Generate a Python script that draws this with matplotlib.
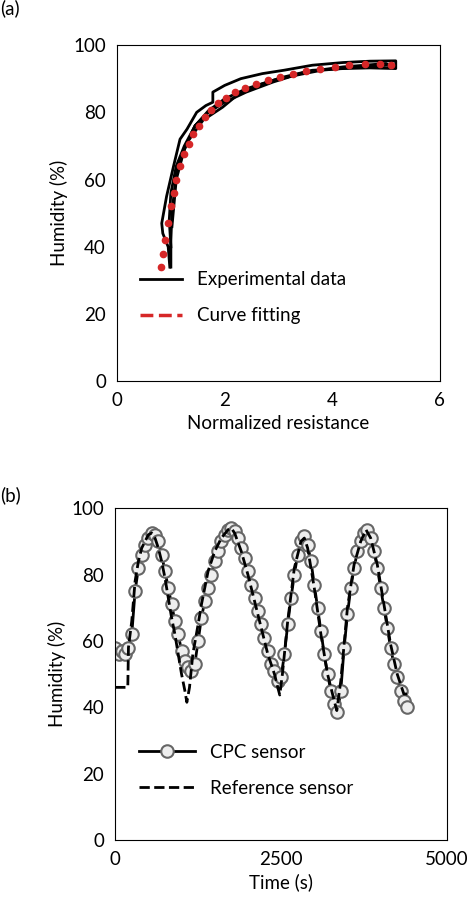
import matplotlib
matplotlib.use("Agg")
import matplotlib.pyplot as plt

plt.rcParams['font.family'] = ['Lato', 'DejaVu Sans']

# (a) hysteresis loops of normalized resistance vs humidity
exp1_x = [0.98, 0.95, 0.85, 0.83, 0.92, 1.05, 1.17, 1.3, 1.48, 1.65, 1.78, 1.78, 2.0, 2.3, 2.7, 3.1, 3.63, 4.2, 4.7, 5.18,
          5.18, 4.7, 4.2, 3.63, 3.1, 2.7, 2.3, 1.96, 1.6, 1.3, 1.1, 1.02, 1.0, 1.0]
exp1_y = [34, 40, 44, 47, 55, 64, 72, 75, 80, 82, 83, 86, 88, 90, 91.5, 92.5, 94.0, 94.8, 95.2, 95.3,
          93.0, 93.2, 93.0, 92.5, 90.5, 88.5, 86.0, 81.5, 77.7, 71, 62, 50, 42, 34]
exp2_x = [1.0, 0.97, 1.0, 1.1, 1.25, 1.45, 1.7, 2.0, 2.4, 2.9, 3.5, 4.2, 5.0, 5.05, 4.5, 3.8, 3.0, 2.4, 2.0, 1.7, 1.45, 1.25, 1.1, 1.02]
exp2_y = [40, 48, 56, 64, 70, 76, 80, 83, 86, 89, 92, 93.5, 94.5, 94.0, 93.5, 92.5, 90.0, 87.0, 84.0, 80.5, 76.0, 69.0, 60.0, 46.0]
fit_x = [0.82, 0.86, 0.9, 0.95, 1.0, 1.05, 1.1, 1.17, 1.25, 1.33, 1.42, 1.52, 1.63, 1.75, 1.88, 2.03, 2.2, 2.38,
         2.58, 2.8, 3.03, 3.27, 3.52, 3.78, 4.05, 4.32, 4.6, 4.88, 5.1]
fit_y = [34, 38, 42, 47, 52, 56, 60, 64, 67.5, 70.5, 73.5, 76, 78.5, 80.8, 82.7, 84.4, 86, 87.3,
         88.5, 89.6, 90.6, 91.5, 92.3, 93, 93.6, 94, 94.3, 94.4, 94.2]

# (b) humidity vs time
t_cpc = list(range(0, 4401, 50))
cpc = [58, 56, 57, 56, 58, 62, 75, 82, 86, 89, 91, 92.5, 92, 90, 86, 81, 76, 71, 66, 62, 57, 54, 52, 51, 53,
       60, 67, 72, 76, 80, 84, 87, 90, 92, 93.5, 94, 93, 91, 88, 85, 81, 77, 73, 69, 65, 61, 57, 53, 51, 48,
       49, 56, 65, 73, 80, 86, 90, 91.5, 89, 84, 77, 70, 63, 56, 50, 45, 41, 38.5, 45, 58, 68, 76, 82, 87, 90,
       92.5, 93.5, 91, 87, 82, 76, 70, 64, 58, 53, 49, 45, 42, 40]
t_ref = [0, 190, 200, 250, 300, 350, 400, 450, 500, 550, 600, 650, 700, 750, 800, 850, 900, 950, 1000, 1050, 1080,
         1120, 1170, 1250, 1300, 1350, 1400, 1500, 1600, 1700, 1750, 1800, 1900, 2000, 2100, 2200, 2300, 2400, 2450,
         2480, 2520, 2600, 2700, 2800, 2850, 2900, 3000, 3100, 3200, 3300, 3340, 3400, 3500, 3600, 3700, 3780, 3850,
         3950, 4050, 4150, 4250, 4350, 4400]
ref = [46, 46, 58, 66, 78, 84, 88, 90, 92, 92.5, 91, 88, 84, 79, 73, 67, 62, 56, 50, 45, 41.5,
       46, 56, 65, 71, 76, 81, 87, 91, 93.5, 94, 92.5, 87, 80, 72, 64, 56, 50, 46,
       43.7, 50, 66, 82, 90, 91, 88, 76, 62, 50, 42, 39, 48, 70, 83, 90, 93.5, 91,
       83, 71, 59, 50, 44, 44]

fig = plt.figure(figsize=(4.74, 9.19), dpi=100)
fs = 13.5

ax1 = fig.add_axes([0.247, 0.585, 0.681, 0.366])
ax1.plot(exp1_x, exp1_y, color='black', lw=2, label='Experimental data')
ax1.plot(exp2_x, exp2_y, color='black', lw=2)
ax1.plot(fit_x, fit_y, color='#d62728', lw=0, marker='o', ms=4.5, label='_nolegend_')
ax1.plot([], [], color='#d62728', ls='--', lw=2.5, label='Curve fitting')
ax1.set_xlim(0, 6)
ax1.set_ylim(0, 100)
ax1.set_xticks([0, 2, 4, 6])
ax1.set_yticks(range(0, 101, 20))
ax1.set_xlabel('Normalized resistance', fontsize=fs)
ax1.set_ylabel('Humidity (%)', fontsize=fs)
ax1.tick_params(labelsize=fs, length=0, pad=8)
ax1.legend(loc='lower left', bbox_to_anchor=(0.02, 0.12), frameon=False, fontsize=fs,
           handlelength=2.2, labelspacing=1.0)
fig.text(0.0, 0.985, '(a)', fontsize=fs)

ax2 = fig.add_axes([0.243, 0.086, 0.70, 0.361])
ax2.plot(t_cpc, cpc, color='black', lw=2, marker='o', ms=9, mfc='#eeeeee', mec='#666666', mew=1.5,
         label='CPC sensor')
ax2.plot(t_ref, ref, color='black', lw=2, ls='--', label='Reference sensor')
ax2.set_xlim(0, 5000)
ax2.set_ylim(0, 100)
ax2.set_xticks([0, 2500, 5000])
ax2.set_yticks(range(0, 101, 20))
ax2.set_xlabel('Time (s)', fontsize=fs)
ax2.set_ylabel('Humidity (%)', fontsize=fs)
ax2.tick_params(labelsize=fs, length=0, pad=8)
ax2.legend(loc='lower left', bbox_to_anchor=(0.02, 0.08), frameon=False, fontsize=fs,
           handlelength=3.0, labelspacing=1.0)
fig.text(0.0, 0.455, '(b)', fontsize=fs)

fig.savefig('out.png', dpi=100)
